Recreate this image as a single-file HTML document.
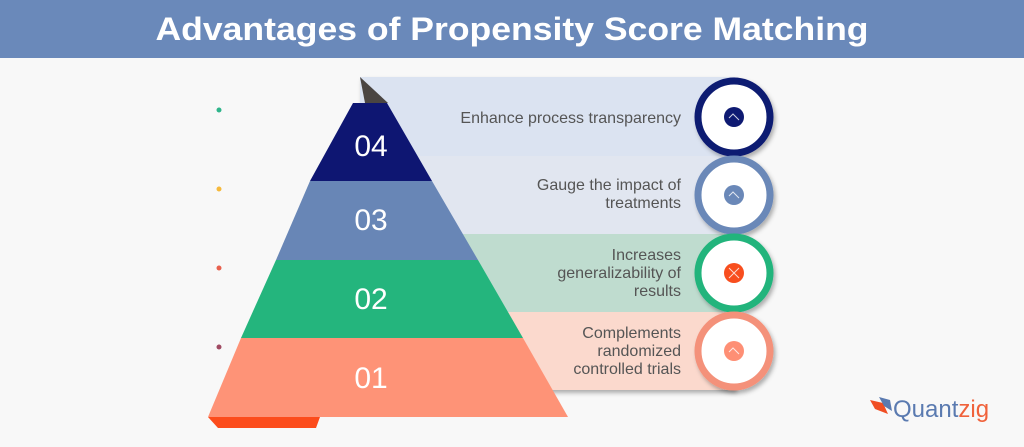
<!DOCTYPE html>
<html><head><meta charset="utf-8"><style>
html,body{margin:0;padding:0;background:#f8f8f8;}
svg{display:block;}
</style></head><body>
<svg width="1024" height="447" viewBox="0 0 1024 447" xmlns="http://www.w3.org/2000/svg" font-family="Liberation Sans, sans-serif">
<defs>
<filter id="sh" x="-30%" y="-30%" width="160%" height="160%"><feDropShadow dx="2" dy="3" stdDeviation="2" flood-color="#000" flood-opacity="0.3"/></filter>
</defs>
<rect x="0" y="0" width="1024" height="447" fill="#f8f8f8"/>
<rect x="0" y="0" width="1024" height="58" fill="#6a89ba"/>
<text x="512" y="40" text-anchor="middle" fill="#fff" font-size="32" font-weight="bold" textLength="713" lengthAdjust="spacingAndGlyphs">Advantages of Propensity Score Matching</text>

<circle cx="219" cy="110" r="2.5" fill="#2fb58b"/>
<circle cx="219" cy="189" r="2.5" fill="#f6b93b"/>
<circle cx="219" cy="268" r="2.5" fill="#e8604d"/>
<circle cx="219" cy="347" r="2.5" fill="#a04a62"/>

<g filter="url(#sh)">
<rect x="360" y="312" width="375" height="78" fill="#fbd9cd"/>
<rect x="360" y="234" width="375" height="78" fill="#bfdccf"/>
<rect x="360" y="156" width="375" height="78" fill="#e1e6f0"/>
<rect x="360" y="77" width="375" height="79" fill="#dbe3f1"/>
</g>
<polygon points="360,77 388,103 365,103" fill="#4a4542"/>
<polygon points="310,181 318,190 314,181" fill="#4a4542"/>
<polygon points="276,260 283,268 280,260" fill="#4a4542"/>
<polygon points="241,338 248,330 252,338" fill="#4a4542"/>

<polygon points="208,417 320,417 316,428 218,428" fill="#fc4c1c"/>
<polygon points="241,338 523,338 568,417 208,417" fill="#fe9377"/>
<polygon points="276,260 478,260 523,338 241,338" fill="#24b57d"/>
<polygon points="310,181 432,181 478,260 276,260" fill="#6886b6"/>
<polygon points="353,103 387,103 432,181 310,181" fill="#0e1672"/>
<g fill="#fff" font-size="30" text-anchor="middle">
<text x="371" y="156">04</text>
<text x="371" y="230">03</text>
<text x="371" y="309">02</text>
<text x="371" y="388">01</text>
</g>

<g fill="#555" font-size="16" text-anchor="end">
<text x="681" y="123">Enhance process transparency</text>
<text x="681" y="190">Gauge the impact of</text>
<text x="681" y="208">treatments</text>
<text x="681" y="260">Increases</text>
<text x="681" y="278">generalizability of</text>
<text x="681" y="296">results</text>
<text x="681" y="338">Complements</text>
<text x="681" y="356">randomized</text>
<text x="681" y="374">controlled trials</text>
</g>

<g filter="url(#sh)">
<circle cx="734" cy="117" r="36" fill="#fff" stroke="#0e1a72" stroke-width="7"/>
<circle cx="734" cy="195" r="36" fill="#fff" stroke="#6a88b8" stroke-width="7"/>
<circle cx="734" cy="273" r="36" fill="#fff" stroke="#22b47c" stroke-width="7"/>
<circle cx="734" cy="351" r="36" fill="#fff" stroke="#f4917a" stroke-width="7"/>
</g>
<circle cx="734" cy="117" r="10" fill="#0e1a72"/>
<circle cx="734" cy="195" r="10" fill="#6a88b8"/>
<circle cx="734" cy="273" r="10" fill="#f84e1e"/>
<circle cx="734" cy="351" r="10" fill="#fe8f75"/>
<g stroke="#fff" stroke-width="1" fill="none" opacity="0.8">
<path d="M729,118 L733,114 L739,120"/>
<path d="M729,196 L733,192 L739,198"/>
<path d="M729,268 L739,278 M739,268 L729,278"/>
<path d="M729,352 L733,348 L739,354"/>
</g>

<polygon points="870,400 883,403 888,414 875,409" fill="#f04e23"/>
<polygon points="879,397 890,400 892,411 884,406" fill="#5a7ab0"/>
<text x="893" y="417" font-size="24" fill="#5a7ab0">Quant<tspan fill="#f0623b">zig</tspan></text>
</svg>
</body></html>
